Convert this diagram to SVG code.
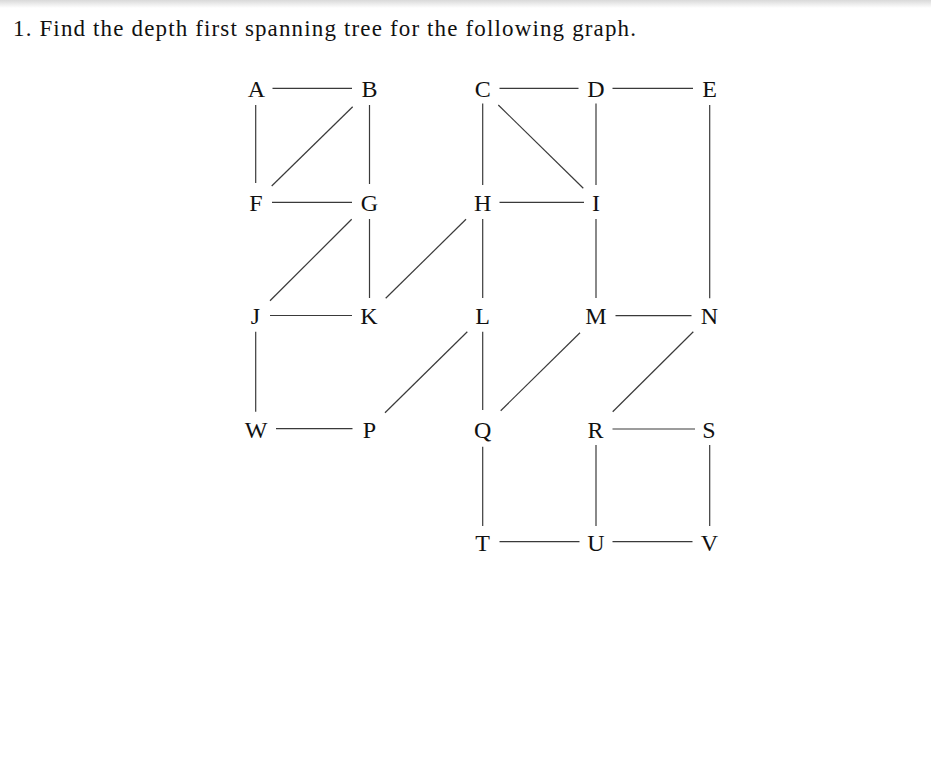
<svg xmlns="http://www.w3.org/2000/svg" width="931" height="781" viewBox="0 0 931 781">
<defs>
<linearGradient id="shade" x1="0" y1="0" x2="0" y2="1">
<stop offset="0" stop-color="#d9d9d9"/>
<stop offset="1" stop-color="#ffffff"/>
</linearGradient>
<style>
.lbl{font-family:"Liberation Serif","DejaVu Serif",serif;font-size:24px;fill:#111;text-anchor:middle}
.title{font-family:"Liberation Serif","DejaVu Serif",serif;font-size:23px;fill:#111}
.edges line{stroke:#3a3a3a;stroke-width:1.2;fill:none}
</style>
</defs>
<rect x="0" y="0" width="931" height="781" fill="#ffffff"/>
<rect x="0" y="0" width="931" height="8" fill="url(#shade)"/>
<text class="title" x="13" y="36" textLength="623" lengthAdjust="spacing">1. Find the depth first spanning tree for the following graph.</text>
<g id="connectors" class="edges">
<line x1="272.5" y1="88.3" x2="352" y2="88.3"/>
<line x1="499.5" y1="88.3" x2="578.5" y2="88.3"/>
<line x1="612.5" y1="88.3" x2="693" y2="88.3"/>
<line x1="272" y1="202.3" x2="352" y2="202.3"/>
<line x1="499.5" y1="202.3" x2="584" y2="202.3"/>
<line x1="270" y1="315.5" x2="352" y2="315.5"/>
<line x1="615.5" y1="315.7" x2="691.5" y2="315.7"/>
<line x1="276" y1="428.7" x2="352.5" y2="428.7"/>
<line x1="612.5" y1="429" x2="695" y2="429"/>
<line x1="499.5" y1="541.7" x2="579.5" y2="541.7"/>
<line x1="612.5" y1="541.7" x2="692.5" y2="541.7"/>
<line x1="255.7" y1="105" x2="255.7" y2="183"/>
<line x1="369.5" y1="105" x2="369.5" y2="184"/>
<line x1="482.7" y1="103.5" x2="482.7" y2="185"/>
<line x1="596" y1="103.5" x2="596" y2="185"/>
<line x1="709.7" y1="105" x2="709.7" y2="298.3"/>
<line x1="369.5" y1="219" x2="369.5" y2="298"/>
<line x1="482.7" y1="219" x2="482.7" y2="298"/>
<line x1="596" y1="219" x2="596" y2="298"/>
<line x1="255.7" y1="331.7" x2="255.7" y2="411.7"/>
<line x1="482.7" y1="331.7" x2="482.7" y2="410"/>
<line x1="482.7" y1="446.7" x2="482.7" y2="526"/>
<line x1="596" y1="445" x2="596" y2="526"/>
<line x1="709.7" y1="445" x2="709.7" y2="526"/>
<line x1="352.7" y1="106.7" x2="271.7" y2="186"/>
<line x1="498.3" y1="105" x2="583.3" y2="188.3"/>
<line x1="351.7" y1="219.3" x2="270" y2="300.7"/>
<line x1="466" y1="219.3" x2="385.7" y2="298.3"/>
<line x1="467.3" y1="331.7" x2="385" y2="412.7"/>
<line x1="580" y1="332.7" x2="500.7" y2="410.7"/>
<line x1="693.3" y1="331.7" x2="612.7" y2="411.7"/>
</g>
<g id="node-A"><text class="lbl" x="256.5" y="96.7">A</text></g>
<g id="node-B"><text class="lbl" x="369.5" y="96.7">B</text></g>
<g id="node-C"><text class="lbl" x="482.7" y="96.7">C</text></g>
<g id="node-D"><text class="lbl" x="596" y="96.7">D</text></g>
<g id="node-E"><text class="lbl" x="709.5" y="96.7">E</text></g>
<g id="node-F"><text class="lbl" x="256" y="210.5">F</text></g>
<g id="node-G"><text class="lbl" x="369.5" y="210.5">G</text></g>
<g id="node-H"><text class="lbl" x="482.7" y="210.5">H</text></g>
<g id="node-I"><text class="lbl" x="596" y="210.5">I</text></g>
<g id="node-J"><text class="lbl" x="255.5" y="324">J</text></g>
<g id="node-K"><text class="lbl" x="369" y="324">K</text></g>
<g id="node-L"><text class="lbl" x="482.5" y="324">L</text></g>
<g id="node-M"><text class="lbl" x="596" y="324">M</text></g>
<g id="node-N"><text class="lbl" x="709.5" y="324">N</text></g>
<g id="node-W"><text class="lbl" x="256" y="437.5">W</text></g>
<g id="node-P"><text class="lbl" x="369.5" y="437.5">P</text></g>
<g id="node-Q"><text class="lbl" x="482.7" y="437.5">Q</text></g>
<g id="node-R"><text class="lbl" x="595.5" y="437.5">R</text></g>
<g id="node-S"><text class="lbl" x="709" y="437.5">S</text></g>
<g id="node-T"><text class="lbl" x="482.7" y="550.5">T</text></g>
<g id="node-U"><text class="lbl" x="596" y="550.5">U</text></g>
<g id="node-V"><text class="lbl" x="709.5" y="550.5">V</text></g>
</svg>
